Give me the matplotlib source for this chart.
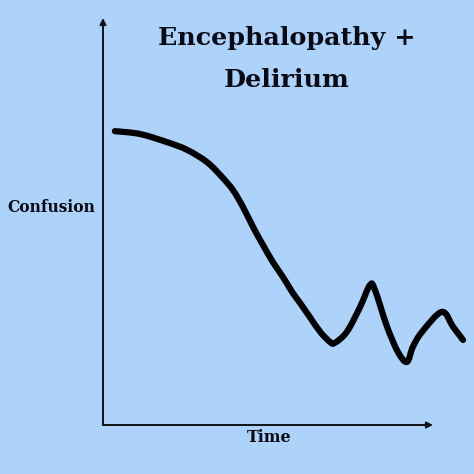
import matplotlib
matplotlib.use("Agg")
import matplotlib.pyplot as plt
from matplotlib.path import Path
from matplotlib.patches import PathPatch

# Data (arbitrary units: time 0-100 along x-axis, confusion 0-100 along y-axis)
time = [3.6, 11.2, 19.4, 25.5, 31.5, 36.1, 39.4, 42.4, 45.5, 48.5, 51.5, 54.5,
        57.3, 59.7, 62.7, 65.8, 68.8, 70.3, 73.9, 77.9, 80.9, 82.4, 86.1, 89.4,
        92.1, 93.9, 96.7, 102.7, 106.1, 109.1]
confusion = [72.2, 71.5, 69.5, 67.6, 64.6, 60.9, 57.7, 53.6, 48.6, 44.2, 40.0, 36.4,
             32.7, 30.0, 26.5, 22.9, 20.4, 20.2, 22.9, 29.0, 34.4, 33.2, 24.1, 17.9,
             15.5, 19.2, 22.9, 27.8, 24.1, 20.9]

title_lines = ["Encephalopathy +", "Delirium"]
xlabel = "Time"
ylabel = "Confusion"

bg = "#add3fb"
W = 474
fig = plt.figure(figsize=(4.74, 4.74), dpi=100, facecolor=bg)
ax = fig.add_axes([103 / W, 49 / W, 330 / W, 407 / W])
ax.set_facecolor(bg)
ax.set_xlim(0, 100)
ax.set_ylim(0, 100)
for s in ax.spines.values():
    s.set_visible(False)
ax.set_xticks([])
ax.set_yticks([])

# axes arrows
arrow = dict(arrowstyle="-|>", lw=1.4, color="#111111", mutation_scale=9, shrinkA=0, shrinkB=0)
ax.annotate("", xy=(0, 1), xytext=(0, 0), xycoords="axes fraction", arrowprops=arrow)
ax.annotate("", xy=(1, 0), xytext=(0, 0), xycoords="axes fraction", arrowprops=arrow)

# smooth hand-drawn curve through the points (Catmull-Rom as cubic Bezier)
pts = list(zip(time, confusion))
verts = [pts[0]]
codes = [Path.MOVETO]
t = 0.5
for i in range(len(pts) - 1):
    p0 = pts[i - 1] if i > 0 else pts[i]
    p1 = pts[i]
    p2 = pts[i + 1]
    p3 = pts[i + 2] if i + 2 < len(pts) else pts[i + 1]
    c1 = (p1[0] + (p2[0] - p0[0]) * t / 3, p1[1] + (p2[1] - p0[1]) * t / 3)
    c2 = (p2[0] - (p3[0] - p1[0]) * t / 3, p2[1] - (p3[1] - p1[1]) * t / 3)
    verts += [c1, c2, p2]
    codes += [Path.CURVE4] * 3
patch = PathPatch(Path(verts, codes), facecolor="none", edgecolor="black", lw=4.5,
                  joinstyle="round", capstyle="round", clip_on=False)
ax.add_patch(patch)

font = dict(family="DejaVu Serif", weight="bold", color="#0a0a14")
fig.text(287 / W, 1 - 38 / W, title_lines[0], ha="center", va="center", fontsize=18.3, **font)
fig.text(287 / W, 1 - 80 / W, title_lines[1], ha="center", va="center", fontsize=18.3, **font)
fig.text(51 / W, 1 - 207 / W, ylabel, ha="center", va="center", fontsize=11.2, **font)
fig.text(269 / W, 1 - 438 / W, xlabel, ha="center", va="center", fontsize=11.5, **font)

fig.savefig("out.png", dpi=100, facecolor=bg)
